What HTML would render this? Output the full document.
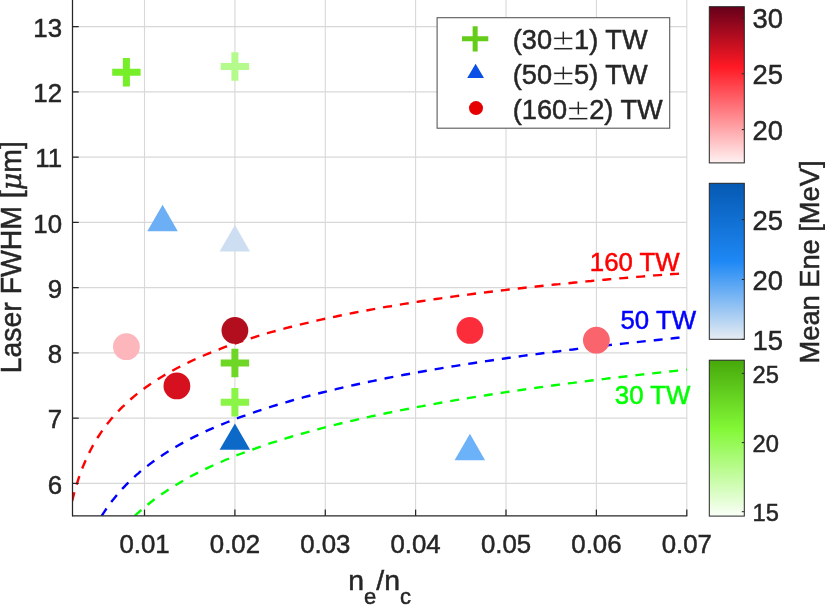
<!DOCTYPE html>
<html><head><meta charset="utf-8"><title>Laser FWHM vs ne/nc</title>
<style>
html,body{margin:0;padding:0;background:#fff;}
body{width:825px;height:605px;overflow:hidden;}
svg{display:block;}
text{font-family:"Liberation Sans",Arial,Helvetica,sans-serif;fill:#262626;stroke:#262626;stroke-width:0.5px;}
.tk{font-size:25.8px;}
.lg{font-size:27.2px;fill:#000;stroke:#000;}
.lb{font-size:28.4px;}
.pm{font-family:"DejaVu Serif","Liberation Serif",serif;font-size:30.5px;stroke:#fff;stroke-width:0.8px;}
</style></head><body>
<svg width="825" height="605" viewBox="0 0 825 605">
<defs>
<linearGradient id="gr" x1="0" y1="0" x2="0" y2="1">
<stop offset="0" stop-color="#66001a"/><stop offset="0.385" stop-color="#ff1924"/><stop offset="1" stop-color="#fff2f2"/>
</linearGradient>
<linearGradient id="gb" x1="0" y1="0" x2="0" y2="1">
<stop offset="0" stop-color="#0559b2"/><stop offset="0.5" stop-color="#1e88f5"/><stop offset="1" stop-color="#e6ecf2"/>
</linearGradient>
<linearGradient id="gg" x1="0" y1="0" x2="0" y2="1">
<stop offset="0" stop-color="#46a80a"/><stop offset="0.44" stop-color="#82f836"/><stop offset="1" stop-color="#fafff8"/>
</linearGradient>
<clipPath id="cp"><rect x="72.5" y="0" width="615" height="515.75"/></clipPath>
</defs>
<rect width="825" height="605" fill="#fff"/>

<g stroke="#d8d8d8" stroke-width="1.1" fill="none">
<line x1="144.5" y1="0" x2="144.5" y2="515.8"/>
<line x1="234.9" y1="0" x2="234.9" y2="515.8"/>
<line x1="325.3" y1="0" x2="325.3" y2="515.8"/>
<line x1="415.6" y1="0" x2="415.6" y2="515.8"/>
<line x1="506.0" y1="0" x2="506.0" y2="515.8"/>
<line x1="596.4" y1="0" x2="596.4" y2="515.8"/>
<line x1="686.8" y1="0" x2="686.8" y2="515.8"/>
<line x1="72.5" y1="483.40" x2="686.8" y2="483.40"/>
<line x1="72.5" y1="418.15" x2="686.8" y2="418.15"/>
<line x1="72.5" y1="352.90" x2="686.8" y2="352.90"/>
<line x1="72.5" y1="287.65" x2="686.8" y2="287.65"/>
<line x1="72.5" y1="222.40" x2="686.8" y2="222.40"/>
<line x1="72.5" y1="157.15" x2="686.8" y2="157.15"/>
<line x1="72.5" y1="91.90" x2="686.8" y2="91.90"/>
<line x1="72.5" y1="26.65" x2="686.8" y2="26.65"/>
</g>
<g fill="none" stroke-width="2.4" stroke-dasharray="9 8" clip-path="url(#cp)">
<path d="M72.2,501.0 L73.4,496.0 L74.6,491.4 L75.9,487.1 L77.1,483.1 L78.3,479.3 L79.5,475.7 L80.8,472.2 L82.0,469.0 L83.2,465.9 L84.5,463.0 L85.7,460.2 L86.9,457.5 L88.1,454.9 L89.4,452.4 L90.6,450.0 L91.8,447.7 L93.0,445.4 L94.3,443.3 L95.5,441.2 L96.7,439.2 L97.9,437.2 L99.2,435.3 L100.4,433.4 L101.6,431.6 L102.8,429.9 L104.1,428.2 L105.3,426.5 L106.5,424.9 L107.7,423.3 L109.0,421.8 L110.2,420.3 L111.4,418.8 L112.6,417.4 L113.9,416.0 L115.1,414.6 L116.3,413.3 L117.5,412.0 L118.8,410.7 L120.0,409.4 L121.2,408.2 L122.4,406.9 L123.7,405.8 L124.9,404.6 L126.1,403.4 L127.3,402.3 L128.6,401.2 L129.8,400.1 L131.0,399.0 L132.2,398.0 L133.5,396.9 L134.7,395.9 L135.9,394.9 L137.1,393.9 L138.4,393.0 L139.6,392.0 L140.8,391.0 L142.0,390.1 L143.3,389.2 L144.5,388.3 L149.1,385.1 L153.6,382.0 L158.2,379.0 L162.7,376.2 L167.3,373.5 L171.8,371.0 L176.4,368.5 L181.0,366.1 L185.5,363.9 L190.1,361.7 L194.6,359.5 L199.2,357.5 L203.7,355.5 L208.3,353.6 L212.9,351.8 L217.4,350.0 L222.0,348.2 L226.5,346.5 L231.1,344.9 L235.6,343.3 L240.2,341.7 L244.8,340.2 L249.3,338.8 L253.9,337.3 L258.4,335.9 L263.0,334.6 L267.5,333.2 L272.1,331.9 L276.7,330.7 L281.2,329.4 L285.8,328.2 L290.3,327.0 L294.9,325.9 L299.4,324.7 L304.0,323.6 L308.6,322.6 L313.1,321.5 L317.7,320.4 L322.2,319.4 L326.8,318.4 L331.3,317.4 L335.9,316.5 L340.4,315.5 L345.0,314.6 L349.6,313.7 L354.1,312.8 L358.7,311.9 L363.2,311.0 L367.8,310.2 L372.3,309.4 L376.9,308.5 L381.5,307.7 L386.0,306.9 L390.6,306.2 L395.1,305.4 L399.7,304.6 L404.2,303.9 L408.8,303.2 L413.4,302.4 L417.9,301.7 L422.5,301.0 L427.0,300.4 L431.6,299.7 L436.1,299.0 L440.7,298.4 L445.3,297.7 L449.8,297.1 L454.4,296.4 L458.9,295.8 L463.5,295.2 L468.0,294.6 L472.6,294.0 L477.2,293.4 L481.7,292.8 L486.3,292.3 L490.8,291.7 L495.4,291.2 L499.9,290.6 L504.5,290.1 L509.1,289.5 L513.6,289.0 L518.2,288.5 L522.7,288.0 L527.3,287.5 L531.8,287.0 L536.4,286.5 L541.0,286.0 L545.5,285.5 L550.1,285.0 L554.6,284.5 L559.2,284.1 L563.7,283.6 L568.3,283.2 L572.9,282.7 L577.4,282.3 L582.0,281.8 L586.5,281.4 L591.1,281.0 L595.6,280.5 L600.2,280.1 L604.8,279.7 L609.3,279.3 L613.9,278.9 L618.4,278.5 L623.0,278.1 L627.5,277.7 L632.1,277.3 L636.7,276.9 L641.2,276.6 L645.8,276.2 L650.3,275.8 L654.9,275.4 L659.4,275.1 L664.0,274.7 L668.6,274.4 L673.1,274.0 L677.7,273.7 L682.2,273.3 L686.8,273.0" stroke="#ff0000"/>
<path d="M101.6,516.0 L102.8,514.1 L104.1,512.2 L105.3,510.3 L106.5,508.5 L107.7,506.8 L109.0,505.1 L110.2,503.4 L111.4,501.8 L112.6,500.2 L113.9,498.7 L115.1,497.2 L116.3,495.7 L117.5,494.2 L118.8,492.8 L120.0,491.4 L121.2,490.0 L122.4,488.7 L123.7,487.4 L124.9,486.1 L126.1,484.8 L127.3,483.6 L128.6,482.3 L129.8,481.1 L131.0,480.0 L132.2,478.8 L133.5,477.7 L134.7,476.5 L135.9,475.4 L137.1,474.4 L138.4,473.3 L139.6,472.2 L140.8,471.2 L142.0,470.2 L143.3,469.2 L144.5,468.2 L149.1,464.6 L153.6,461.2 L158.2,458.0 L162.7,455.0 L167.3,452.0 L171.8,449.2 L176.4,446.5 L181.0,443.9 L185.5,441.4 L190.1,439.0 L194.6,436.7 L199.2,434.5 L203.7,432.3 L208.3,430.2 L212.9,428.2 L217.4,426.2 L222.0,424.3 L226.5,422.5 L231.1,420.7 L235.6,418.9 L240.2,417.2 L244.8,415.6 L249.3,413.9 L253.9,412.4 L258.4,410.8 L263.0,409.3 L267.5,407.8 L272.1,406.4 L276.7,405.0 L281.2,403.6 L285.8,402.3 L290.3,401.0 L294.9,399.7 L299.4,398.4 L304.0,397.2 L308.6,396.0 L313.1,394.8 L317.7,393.6 L322.2,392.5 L326.8,391.4 L331.3,390.2 L335.9,389.2 L340.4,388.1 L345.0,387.0 L349.6,386.0 L354.1,385.0 L358.7,384.0 L363.2,383.0 L367.8,382.0 L372.3,381.1 L376.9,380.2 L381.5,379.2 L386.0,378.3 L390.6,377.4 L395.1,376.5 L399.7,375.7 L404.2,374.8 L408.8,374.0 L413.4,373.1 L417.9,372.3 L422.5,371.5 L427.0,370.7 L431.6,369.9 L436.1,369.1 L440.7,368.4 L445.3,367.6 L449.8,366.8 L454.4,366.1 L458.9,365.4 L463.5,364.6 L468.0,363.9 L472.6,363.2 L477.2,362.5 L481.7,361.8 L486.3,361.1 L490.8,360.5 L495.4,359.8 L499.9,359.1 L504.5,358.5 L509.1,357.8 L513.6,357.2 L518.2,356.6 L522.7,355.9 L527.3,355.3 L531.8,354.7 L536.4,354.1 L541.0,353.5 L545.5,352.9 L550.1,352.3 L554.6,351.7 L559.2,351.2 L563.7,350.6 L568.3,350.0 L572.9,349.5 L577.4,348.9 L582.0,348.3 L586.5,347.8 L591.1,347.3 L595.6,346.7 L600.2,346.2 L604.8,345.7 L609.3,345.1 L613.9,344.6 L618.4,344.1 L623.0,343.6 L627.5,343.1 L632.1,342.6 L636.7,342.1 L641.2,341.6 L645.8,341.1 L650.3,340.7 L654.9,340.2 L659.4,339.7 L664.0,339.2 L668.6,338.8 L673.1,338.3 L677.7,337.8 L682.2,337.4 L686.8,336.9" stroke="#0000ff"/>
<path d="M134.7,515.9 L135.9,514.8 L137.1,513.7 L138.4,512.6 L139.6,511.5 L140.8,510.4 L142.0,509.3 L143.3,508.3 L144.5,507.2 L149.1,503.5 L153.6,500.0 L158.2,496.7 L162.7,493.5 L167.3,490.4 L171.8,487.5 L176.4,484.7 L181.0,482.0 L185.5,479.3 L190.1,476.8 L194.6,474.4 L199.2,472.1 L203.7,469.8 L208.3,467.6 L212.9,465.5 L217.4,463.5 L222.0,461.5 L226.5,459.5 L231.1,457.7 L235.6,455.8 L240.2,454.0 L244.8,452.3 L249.3,450.6 L253.9,449.0 L258.4,447.3 L263.0,445.8 L267.5,444.2 L272.1,442.7 L276.7,441.3 L281.2,439.8 L285.8,438.4 L290.3,437.0 L294.9,435.7 L299.4,434.4 L304.0,433.1 L308.6,431.8 L313.1,430.5 L317.7,429.3 L322.2,428.1 L326.8,426.9 L331.3,425.8 L335.9,424.6 L340.4,423.5 L345.0,422.4 L349.6,421.3 L354.1,420.3 L358.7,419.2 L363.2,418.2 L367.8,417.2 L372.3,416.2 L376.9,415.2 L381.5,414.2 L386.0,413.3 L390.6,412.3 L395.1,411.4 L399.7,410.5 L404.2,409.6 L408.8,408.7 L413.4,407.8 L417.9,406.9 L422.5,406.1 L427.0,405.2 L431.6,404.4 L436.1,403.6 L440.7,402.8 L445.3,402.0 L449.8,401.2 L454.4,400.4 L458.9,399.6 L463.5,398.9 L468.0,398.1 L472.6,397.4 L477.2,396.6 L481.7,395.9 L486.3,395.2 L490.8,394.5 L495.4,393.8 L499.9,393.1 L504.5,392.4 L509.1,391.7 L513.6,391.0 L518.2,390.4 L522.7,389.7 L527.3,389.0 L531.8,388.4 L536.4,387.8 L541.0,387.1 L545.5,386.5 L550.1,385.9 L554.6,385.3 L559.2,384.6 L563.7,384.0 L568.3,383.4 L572.9,382.9 L577.4,382.3 L582.0,381.7 L586.5,381.1 L591.1,380.5 L595.6,380.0 L600.2,379.4 L604.8,378.9 L609.3,378.3 L613.9,377.8 L618.4,377.2 L623.0,376.7 L627.5,376.2 L632.1,375.6 L636.7,375.1 L641.2,374.6 L645.8,374.1 L650.3,373.6 L654.9,373.1 L659.4,372.6 L664.0,372.1 L668.6,371.6 L673.1,371.1 L677.7,370.6 L682.2,370.1 L686.8,369.6" stroke="#00ff00"/>
</g>
<g stroke="#262626" stroke-width="1.25" fill="none">
<line x1="72.5" y1="0" x2="72.5" y2="516.3"/>
<line x1="72.0" y1="515.8" x2="687.3" y2="515.8"/>
<line x1="144.5" y1="515.8" x2="144.5" y2="509.59999999999997"/>
<line x1="234.9" y1="515.8" x2="234.9" y2="509.59999999999997"/>
<line x1="325.3" y1="515.8" x2="325.3" y2="509.59999999999997"/>
<line x1="415.6" y1="515.8" x2="415.6" y2="509.59999999999997"/>
<line x1="506.0" y1="515.8" x2="506.0" y2="509.59999999999997"/>
<line x1="596.4" y1="515.8" x2="596.4" y2="509.59999999999997"/>
<line x1="686.8" y1="515.8" x2="686.8" y2="509.59999999999997"/>
<line x1="72.5" y1="483.40" x2="78.7" y2="483.40"/>
<line x1="72.5" y1="418.15" x2="78.7" y2="418.15"/>
<line x1="72.5" y1="352.90" x2="78.7" y2="352.90"/>
<line x1="72.5" y1="287.65" x2="78.7" y2="287.65"/>
<line x1="72.5" y1="222.40" x2="78.7" y2="222.40"/>
<line x1="72.5" y1="157.15" x2="78.7" y2="157.15"/>
<line x1="72.5" y1="91.90" x2="78.7" y2="91.90"/>
<line x1="72.5" y1="26.65" x2="78.7" y2="26.65"/>
</g>
<g class="tk" text-anchor="middle">
<text x="144.5" y="552.9">0.01</text>
<text x="234.9" y="552.9">0.02</text>
<text x="325.3" y="552.9">0.03</text>
<text x="415.6" y="552.9">0.04</text>
<text x="506.0" y="552.9">0.05</text>
<text x="596.4" y="552.9">0.06</text>
<text x="686.8" y="552.9">0.07</text>
</g>
<g class="tk" text-anchor="end">
<text x="62" y="493.6">6</text>
<text x="62" y="428.3">7</text>
<text x="62" y="363.1">8</text>
<text x="62" y="297.8">9</text>
<text x="62" y="232.6">10</text>
<text x="62" y="167.3">11</text>
<text x="62" y="102.1">12</text>
<text x="62" y="36.8">13</text>
</g>
<text class="lb" x="348.3" y="590.2">n<tspan font-size="22" dy="13.5">e</tspan><tspan dy="-13.5">/n</tspan><tspan font-size="22" dy="13.5">c</tspan></text>
<text class="lb" transform="translate(20.7,257.2) rotate(-90) scale(1,1.045)" text-anchor="middle">Laser FWHM [<tspan font-family="'DejaVu Serif','Liberation Serif',serif" font-style="italic" font-size="27">μ</tspan>m]</text>
<path d="M112.2,72.3H140.6M126.4,58.1V86.5" stroke="#76ee28" stroke-width="7" fill="none"/>
<path d="M220.7,66.5H249.1M234.9,52.3V80.7" stroke="#b4fa8c" stroke-width="7" fill="none"/>
<path d="M220.7,363.0H249.1M234.9,348.8V377.2" stroke="#6ed726" stroke-width="7" fill="none"/>
<path d="M220.7,402.2H249.1M234.9,388.0V416.4" stroke="#8af546" stroke-width="7" fill="none"/>
<path d="M162.6,204.8L177.8,231.2H147.3Z" fill="#6caff5"/>
<path d="M234.9,225.0L250.1,251.4H219.6Z" fill="#cddef2"/>
<path d="M234.9,423.4L250.1,449.8H219.6Z" fill="#0c69c8"/>
<path d="M469.9,433.8L485.1,460.2H454.6Z" fill="#6cb2f8"/>
<circle cx="126.4" cy="346.7" r="13.4" fill="#fdb6bc"/>
<circle cx="234.9" cy="330.4" r="13.4" fill="#b20e1e"/>
<circle cx="176.9" cy="385.9" r="13.4" fill="#d6101e"/>
<circle cx="469.9" cy="330.4" r="13.4" fill="#fc2d3a"/>
<circle cx="596.4" cy="340.2" r="13.4" fill="#fa646c"/>
<g style="font-size:25.8px">
<text x="589.8" y="270.8" style="fill:#ff0000;stroke:#ff0000">160 TW</text>
<text x="620.5" y="329.2" style="fill:#0000ff;stroke:#0000ff">50 TW</text>
<text x="614.8" y="404.2" style="fill:#00ff00;stroke:#00ff00">30 TW</text>
</g>
<rect x="437.1" y="17.7" width="232.6" height="110.5" fill="#fff" stroke="#5a5a5a" stroke-width="1.1"/>
<path d="M462,38.8H488.3M475.15,26.2V51.4" stroke="#66cc1a" stroke-width="5" fill="none"/>
<path d="M475.6,63.7L484,77.9H467.2Z" fill="#0a50e6"/>
<circle cx="476" cy="108.1" r="7" fill="#e60000"/>
<g class="lg">
<text x="512.8" y="49.1">(30<tspan class="pm" dx="-1.6" dy="1">±</tspan><tspan dx="-2" dy="-1">1) TW</tspan></text>
<text x="512.8" y="84.05">(50<tspan class="pm" dx="-1.6" dy="1">±</tspan><tspan dx="-2" dy="-1">5) TW</tspan></text>
<text x="512.8" y="119.0">(160<tspan class="pm" dx="-1.6" dy="1">±</tspan><tspan dx="-2" dy="-1">2) TW</tspan></text>
</g>
<rect x="709.3" y="6.7" width="35" height="156.2" fill="url(#gr)" stroke="#262626" stroke-width="1"/>
<line x1="741.8" y1="17.9" x2="744.3" y2="17.9" stroke="#262626" stroke-width="1"/>
<text x="752.6" y="28.4" style="font-size:27.4px">30</text>
<line x1="741.8" y1="73.8" x2="744.3" y2="73.8" stroke="#262626" stroke-width="1"/>
<text x="752.6" y="84.3" style="font-size:27.4px">25</text>
<line x1="741.8" y1="129.6" x2="744.3" y2="129.6" stroke="#262626" stroke-width="1"/>
<text x="752.6" y="140.1" style="font-size:27.4px">20</text>
<rect x="709.3" y="183.3" width="35" height="156.0" fill="url(#gb)" stroke="#262626" stroke-width="1"/>
<line x1="741.8" y1="219.6" x2="744.3" y2="219.6" stroke="#262626" stroke-width="1"/>
<text x="752.6" y="230.1" style="font-size:27.4px">25</text>
<line x1="741.8" y1="279.5" x2="744.3" y2="279.5" stroke="#262626" stroke-width="1"/>
<text x="752.6" y="290.0" style="font-size:27.4px">20</text>
<line x1="741.8" y1="339.3" x2="744.3" y2="339.3" stroke="#262626" stroke-width="1"/>
<text x="752.6" y="349.8" style="font-size:27.4px">15</text>
<rect x="709.3" y="360.2" width="35" height="155.9" fill="url(#gg)" stroke="#262626" stroke-width="1"/>
<line x1="741.8" y1="373.4" x2="744.3" y2="373.4" stroke="#262626" stroke-width="1"/>
<text x="752.6" y="382.6" style="font-size:23.7px">25</text>
<line x1="741.8" y1="442.6" x2="744.3" y2="442.6" stroke="#262626" stroke-width="1"/>
<text x="752.6" y="451.8" style="font-size:23.7px">20</text>
<line x1="741.8" y1="511.7" x2="744.3" y2="511.7" stroke="#262626" stroke-width="1"/>
<text x="752.6" y="520.9" style="font-size:23.7px">15</text>
<text transform="translate(819.2,262.0) rotate(-90) scale(1,1.03)" text-anchor="middle" style="font-size:27.25px">Mean Ene [MeV]</text>
</svg></body></html>
